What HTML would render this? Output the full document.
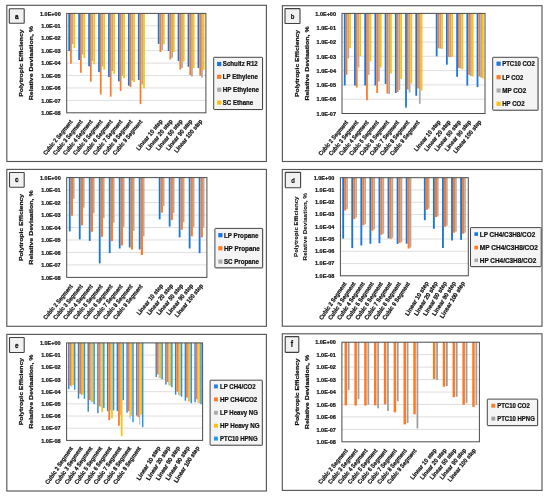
<!DOCTYPE html>
<html lang="en"><head><meta charset="utf-8"><title>Polytropic efficiency relative deviation</title>
<style>html,body{margin:0;padding:0;background:#fff}svg{display:block}text{font-family:"Liberation Sans",sans-serif;font-weight:bold;fill:#111;stroke:#111;stroke-width:0.22px}</style></head><body>
<svg width="550" height="497" viewBox="0 0 550 497">
<rect width="550" height="497" fill="#fff"/>
<g id="panel-a">
<rect x="6.8" y="5.3" width="259.6" height="156.2" fill="#fff" stroke="#575757" stroke-width="1.15"/>
<rect x="9.3" y="8.8" width="14.9" height="14.5" rx="0.6" fill="#f1f1f1" stroke="#404040" stroke-width="1.1"/>
<text transform="translate(16.75 18.55) scale(0.8 1)" font-size="7.9" text-anchor="middle" style="stroke-width:0.35px">a</text>
<line x1="66.7" y1="25.82" x2="205.9" y2="25.82" stroke="#d6d6d6" stroke-width="0.8"/>
<line x1="66.7" y1="38.25" x2="205.9" y2="38.25" stroke="#d6d6d6" stroke-width="0.8"/>
<line x1="66.7" y1="50.67" x2="205.9" y2="50.67" stroke="#d6d6d6" stroke-width="0.8"/>
<line x1="66.7" y1="63.1" x2="205.9" y2="63.1" stroke="#d6d6d6" stroke-width="0.8"/>
<line x1="66.7" y1="75.52" x2="205.9" y2="75.52" stroke="#d6d6d6" stroke-width="0.8"/>
<line x1="66.7" y1="87.95" x2="205.9" y2="87.95" stroke="#d6d6d6" stroke-width="0.8"/>
<line x1="66.7" y1="100.38" x2="205.9" y2="100.38" stroke="#d6d6d6" stroke-width="0.8"/>
<text x="60.7" y="15.6" font-size="5.8" text-anchor="end" textLength="20.7" lengthAdjust="spacingAndGlyphs">1.0E+00</text>
<text x="60.7" y="28.02" font-size="5.8" text-anchor="end" textLength="19.4" lengthAdjust="spacingAndGlyphs">1.0E-01</text>
<text x="60.7" y="40.45" font-size="5.8" text-anchor="end" textLength="19.4" lengthAdjust="spacingAndGlyphs">1.0E-02</text>
<text x="60.7" y="52.88" font-size="5.8" text-anchor="end" textLength="19.4" lengthAdjust="spacingAndGlyphs">1.0E-03</text>
<text x="60.7" y="65.3" font-size="5.8" text-anchor="end" textLength="19.4" lengthAdjust="spacingAndGlyphs">1.0E-04</text>
<text x="60.7" y="77.72" font-size="5.8" text-anchor="end" textLength="19.4" lengthAdjust="spacingAndGlyphs">1.0E-05</text>
<text x="60.7" y="90.15" font-size="5.8" text-anchor="end" textLength="19.4" lengthAdjust="spacingAndGlyphs">1.0E-06</text>
<text x="60.7" y="102.58" font-size="5.8" text-anchor="end" textLength="19.4" lengthAdjust="spacingAndGlyphs">1.0E-07</text>
<text x="60.7" y="115" font-size="5.8" text-anchor="end" textLength="19.4" lengthAdjust="spacingAndGlyphs">1.0E-08</text>
<rect x="68.3" y="13.4" width="1.74" height="37.6" fill="#1A76DF"/>
<rect x="70.04" y="13.4" width="1.74" height="50.3" fill="#FF7A22"/>
<rect x="71.78" y="13.4" width="1.74" height="30.5" fill="#ABABAB"/>
<rect x="73.52" y="13.4" width="1.74" height="34.8" fill="#FFC108"/>
<rect x="78.24" y="13.4" width="1.74" height="46.6" fill="#1A76DF"/>
<rect x="79.98" y="13.4" width="1.74" height="59.4" fill="#FF7A22"/>
<rect x="81.72" y="13.4" width="1.74" height="41.1" fill="#ABABAB"/>
<rect x="83.46" y="13.4" width="1.74" height="44.6" fill="#FFC108"/>
<rect x="88.19" y="13.4" width="1.74" height="52.9" fill="#1A76DF"/>
<rect x="89.93" y="13.4" width="1.74" height="68.2" fill="#FF7A22"/>
<rect x="91.67" y="13.4" width="1.74" height="47.6" fill="#ABABAB"/>
<rect x="93.41" y="13.4" width="1.74" height="50.9" fill="#FFC108"/>
<rect x="98.13" y="13.4" width="1.74" height="58.7" fill="#1A76DF"/>
<rect x="99.87" y="13.4" width="1.74" height="81.1" fill="#FF7A22"/>
<rect x="101.61" y="13.4" width="1.74" height="53.1" fill="#ABABAB"/>
<rect x="103.35" y="13.4" width="1.74" height="56.2" fill="#FFC108"/>
<rect x="108.07" y="13.4" width="1.74" height="63.6" fill="#1A76DF"/>
<rect x="109.81" y="13.4" width="1.74" height="83.2" fill="#FF7A22"/>
<rect x="111.55" y="13.4" width="1.74" height="57.6" fill="#ABABAB"/>
<rect x="113.29" y="13.4" width="1.74" height="60.5" fill="#FFC108"/>
<rect x="118.01" y="13.4" width="1.74" height="68" fill="#1A76DF"/>
<rect x="119.75" y="13.4" width="1.74" height="77.5" fill="#FF7A22"/>
<rect x="121.49" y="13.4" width="1.74" height="62.2" fill="#ABABAB"/>
<rect x="123.23" y="13.4" width="1.74" height="64.7" fill="#FFC108"/>
<rect x="127.96" y="13.4" width="1.74" height="72.3" fill="#1A76DF"/>
<rect x="129.7" y="13.4" width="1.74" height="73.6" fill="#FF7A22"/>
<rect x="131.44" y="13.4" width="1.74" height="67.2" fill="#ABABAB"/>
<rect x="133.18" y="13.4" width="1.74" height="68.6" fill="#FFC108"/>
<rect x="137.9" y="13.4" width="1.74" height="66.6" fill="#1A76DF"/>
<rect x="139.64" y="13.4" width="1.74" height="90.7" fill="#FF7A22"/>
<rect x="141.38" y="13.4" width="1.74" height="71.1" fill="#ABABAB"/>
<rect x="143.12" y="13.4" width="1.74" height="75" fill="#FFC108"/>
<rect x="157.79" y="13.4" width="1.74" height="30.5" fill="#1A76DF"/>
<rect x="159.53" y="13.4" width="1.74" height="38.6" fill="#FF7A22"/>
<rect x="161.27" y="13.4" width="1.74" height="36.6" fill="#ABABAB"/>
<rect x="163.01" y="13.4" width="1.74" height="31" fill="#FFC108"/>
<rect x="167.73" y="13.4" width="1.74" height="37.6" fill="#1A76DF"/>
<rect x="169.47" y="13.4" width="1.74" height="46.1" fill="#FF7A22"/>
<rect x="171.21" y="13.4" width="1.74" height="44.3" fill="#ABABAB"/>
<rect x="172.95" y="13.4" width="1.74" height="38.6" fill="#FFC108"/>
<rect x="177.67" y="13.4" width="1.74" height="47.6" fill="#1A76DF"/>
<rect x="179.41" y="13.4" width="1.74" height="56.2" fill="#FF7A22"/>
<rect x="181.15" y="13.4" width="1.74" height="54.7" fill="#ABABAB"/>
<rect x="182.89" y="13.4" width="1.74" height="48.3" fill="#FFC108"/>
<rect x="187.61" y="13.4" width="1.74" height="53.4" fill="#1A76DF"/>
<rect x="189.35" y="13.4" width="1.74" height="61.7" fill="#FF7A22"/>
<rect x="191.09" y="13.4" width="1.74" height="63.2" fill="#ABABAB"/>
<rect x="192.83" y="13.4" width="1.74" height="54.7" fill="#FFC108"/>
<rect x="197.56" y="13.4" width="1.74" height="54.7" fill="#1A76DF"/>
<rect x="199.3" y="13.4" width="1.74" height="62.2" fill="#FF7A22"/>
<rect x="201.04" y="13.4" width="1.74" height="64.2" fill="#ABABAB"/>
<rect x="202.78" y="13.4" width="1.74" height="56.7" fill="#FFC108"/>
<rect x="66.7" y="13.4" width="139.2" height="99.4" fill="none" stroke="#4c4c4c" stroke-width="1"/>
<text transform="translate(72.97 122) rotate(-51)" font-size="6.1" text-anchor="end" textLength="43" lengthAdjust="spacingAndGlyphs">Cubic 2 Segment</text>
<text transform="translate(82.91 122) rotate(-51)" font-size="6.1" text-anchor="end" textLength="43" lengthAdjust="spacingAndGlyphs">Cubic 3 Segment</text>
<text transform="translate(92.86 122) rotate(-51)" font-size="6.1" text-anchor="end" textLength="43" lengthAdjust="spacingAndGlyphs">Cubic 4 Segment</text>
<text transform="translate(102.8 122) rotate(-51)" font-size="6.1" text-anchor="end" textLength="43" lengthAdjust="spacingAndGlyphs">Cubic 5 Segment</text>
<text transform="translate(112.74 122) rotate(-51)" font-size="6.1" text-anchor="end" textLength="43" lengthAdjust="spacingAndGlyphs">Cubic 6 Segment</text>
<text transform="translate(122.69 122) rotate(-51)" font-size="6.1" text-anchor="end" textLength="43" lengthAdjust="spacingAndGlyphs">Cubic 7 Segment</text>
<text transform="translate(132.63 122) rotate(-51)" font-size="6.1" text-anchor="end" textLength="43" lengthAdjust="spacingAndGlyphs">Cubic 8 Segment</text>
<text transform="translate(142.57 122) rotate(-51)" font-size="6.1" text-anchor="end" textLength="43" lengthAdjust="spacingAndGlyphs">Cubic 9 Segment</text>
<text transform="translate(162.96 121.3) rotate(-51)" font-size="6.1" text-anchor="end" textLength="38.2" lengthAdjust="spacingAndGlyphs">Linear 10 step</text>
<text transform="translate(172.9 121.3) rotate(-51)" font-size="6.1" text-anchor="end" textLength="38.2" lengthAdjust="spacingAndGlyphs">Linear 20 step</text>
<text transform="translate(182.84 121.3) rotate(-51)" font-size="6.1" text-anchor="end" textLength="38.2" lengthAdjust="spacingAndGlyphs">Linear 50 step</text>
<text transform="translate(192.79 121.3) rotate(-51)" font-size="6.1" text-anchor="end" textLength="38.2" lengthAdjust="spacingAndGlyphs">Linear 90 step</text>
<text transform="translate(202.73 121.3) rotate(-51)" font-size="6.1" text-anchor="end" textLength="41" lengthAdjust="spacingAndGlyphs">Linear 100 step</text>
<text transform="translate(23.1 63.1) rotate(-90)" font-size="6.25" text-anchor="middle" textLength="67.2" lengthAdjust="spacingAndGlyphs">Polytropic Efficiency</text>
<text transform="translate(33.2 63.1) rotate(-90)" font-size="6.25" text-anchor="middle" textLength="74.3" lengthAdjust="spacingAndGlyphs">Relative Deviaation, %</text>
<rect x="214.4" y="58" width="48.8" height="52.2" fill="#c2c2c2"/>
<rect x="213.7" y="57.3" width="48.8" height="52.2" rx="0.5" fill="#f4f4f4" stroke="#484848" stroke-width="1"/>
<rect x="217.1" y="61.9" width="4.2" height="4.2" fill="#1A76DF"/>
<text x="222.8" y="66.4" font-size="6.7" textLength="35" lengthAdjust="spacingAndGlyphs">Schultz R12</text>
<rect x="217.1" y="74.7" width="4.2" height="4.2" fill="#FF7A22"/>
<text x="222.8" y="79.2" font-size="6.7" textLength="35" lengthAdjust="spacingAndGlyphs">LP Ethylene</text>
<rect x="217.1" y="87.6" width="4.2" height="4.2" fill="#ABABAB"/>
<text x="222.8" y="92.1" font-size="6.7" textLength="36.2" lengthAdjust="spacingAndGlyphs">HP Ethylene</text>
<rect x="217.1" y="100.5" width="4.2" height="4.2" fill="#FFC108"/>
<text x="222.8" y="105" font-size="6.7" textLength="30.4" lengthAdjust="spacingAndGlyphs">SC Ethane</text>
</g>
<g id="panel-b">
<rect x="282.4" y="5.7" width="259.6" height="155.8" fill="#fff" stroke="#575757" stroke-width="1.15"/>
<rect x="285" y="8.6" width="15" height="14.9" rx="0.6" fill="#f1f1f1" stroke="#404040" stroke-width="1.1"/>
<text transform="translate(292.5 18.55) scale(0.8 1)" font-size="7.4" text-anchor="middle" style="stroke-width:0.2px">b</text>
<line x1="342" y1="27.7" x2="485" y2="27.7" stroke="#d6d6d6" stroke-width="0.8"/>
<line x1="342" y1="42" x2="485" y2="42" stroke="#d6d6d6" stroke-width="0.8"/>
<line x1="342" y1="56.3" x2="485" y2="56.3" stroke="#d6d6d6" stroke-width="0.8"/>
<line x1="342" y1="70.6" x2="485" y2="70.6" stroke="#d6d6d6" stroke-width="0.8"/>
<line x1="342" y1="84.9" x2="485" y2="84.9" stroke="#d6d6d6" stroke-width="0.8"/>
<line x1="342" y1="99.2" x2="485" y2="99.2" stroke="#d6d6d6" stroke-width="0.8"/>
<text x="336" y="15.6" font-size="5.8" text-anchor="end" textLength="20.7" lengthAdjust="spacingAndGlyphs">1.0E+00</text>
<text x="336" y="29.9" font-size="5.8" text-anchor="end" textLength="19.4" lengthAdjust="spacingAndGlyphs">1.0E-01</text>
<text x="336" y="44.2" font-size="5.8" text-anchor="end" textLength="19.4" lengthAdjust="spacingAndGlyphs">1.0E-02</text>
<text x="336" y="58.5" font-size="5.8" text-anchor="end" textLength="19.4" lengthAdjust="spacingAndGlyphs">1.0E-03</text>
<text x="336" y="72.8" font-size="5.8" text-anchor="end" textLength="19.4" lengthAdjust="spacingAndGlyphs">1.0E-04</text>
<text x="336" y="87.1" font-size="5.8" text-anchor="end" textLength="19.4" lengthAdjust="spacingAndGlyphs">1.0E-05</text>
<text x="336" y="101.4" font-size="5.8" text-anchor="end" textLength="19.4" lengthAdjust="spacingAndGlyphs">1.0E-06</text>
<text x="336" y="115.7" font-size="5.8" text-anchor="end" textLength="19.4" lengthAdjust="spacingAndGlyphs">1.0E-07</text>
<rect x="343.85" y="13.4" width="1.78" height="72.1" fill="#1A76DF"/>
<rect x="345.63" y="13.4" width="1.78" height="61.4" fill="#FF7A22"/>
<rect x="347.41" y="13.4" width="1.78" height="45" fill="#ABABAB"/>
<rect x="349.19" y="13.4" width="1.78" height="34.9" fill="#FFC108"/>
<rect x="354.06" y="13.4" width="1.78" height="72.1" fill="#1A76DF"/>
<rect x="355.84" y="13.4" width="1.78" height="74.1" fill="#FF7A22"/>
<rect x="357.62" y="13.4" width="1.78" height="54" fill="#ABABAB"/>
<rect x="359.4" y="13.4" width="1.78" height="42.6" fill="#FFC108"/>
<rect x="364.28" y="13.4" width="1.78" height="72.1" fill="#1A76DF"/>
<rect x="366.06" y="13.4" width="1.78" height="86.8" fill="#FF7A22"/>
<rect x="367.84" y="13.4" width="1.78" height="61.4" fill="#ABABAB"/>
<rect x="369.62" y="13.4" width="1.78" height="48" fill="#FFC108"/>
<rect x="374.49" y="13.4" width="1.78" height="72.1" fill="#1A76DF"/>
<rect x="376.27" y="13.4" width="1.78" height="79.6" fill="#FF7A22"/>
<rect x="378.05" y="13.4" width="1.78" height="68.1" fill="#ABABAB"/>
<rect x="379.83" y="13.4" width="1.78" height="54" fill="#FFC108"/>
<rect x="384.7" y="13.4" width="1.78" height="70.6" fill="#1A76DF"/>
<rect x="386.48" y="13.4" width="1.78" height="80.1" fill="#FF7A22"/>
<rect x="388.26" y="13.4" width="1.78" height="80.6" fill="#ABABAB"/>
<rect x="390.04" y="13.4" width="1.78" height="60" fill="#FFC108"/>
<rect x="394.92" y="13.4" width="1.78" height="79.6" fill="#1A76DF"/>
<rect x="396.7" y="13.4" width="1.78" height="78.6" fill="#FF7A22"/>
<rect x="398.48" y="13.4" width="1.78" height="76.6" fill="#ABABAB"/>
<rect x="400.26" y="13.4" width="1.78" height="65.5" fill="#FFC108"/>
<rect x="405.13" y="13.4" width="1.78" height="94.2" fill="#1A76DF"/>
<rect x="406.91" y="13.4" width="1.78" height="76.1" fill="#FF7A22"/>
<rect x="408.69" y="13.4" width="1.78" height="79.1" fill="#ABABAB"/>
<rect x="410.47" y="13.4" width="1.78" height="70.1" fill="#FFC108"/>
<rect x="415.35" y="13.4" width="1.78" height="82.4" fill="#1A76DF"/>
<rect x="417.13" y="13.4" width="1.78" height="75.1" fill="#FF7A22"/>
<rect x="418.91" y="13.4" width="1.78" height="90.4" fill="#ABABAB"/>
<rect x="420.69" y="13.4" width="1.78" height="77.1" fill="#FFC108"/>
<rect x="435.78" y="13.4" width="1.78" height="42.9" fill="#1A76DF"/>
<rect x="437.56" y="13.4" width="1.78" height="34.9" fill="#FF7A22"/>
<rect x="439.34" y="13.4" width="1.78" height="35.1" fill="#ABABAB"/>
<rect x="441.12" y="13.4" width="1.78" height="35.5" fill="#FFC108"/>
<rect x="445.99" y="13.4" width="1.78" height="51.3" fill="#1A76DF"/>
<rect x="447.77" y="13.4" width="1.78" height="43.6" fill="#FF7A22"/>
<rect x="449.55" y="13.4" width="1.78" height="43.9" fill="#ABABAB"/>
<rect x="451.33" y="13.4" width="1.78" height="43.5" fill="#FFC108"/>
<rect x="456.2" y="13.4" width="1.78" height="63.4" fill="#1A76DF"/>
<rect x="457.98" y="13.4" width="1.78" height="54.6" fill="#FF7A22"/>
<rect x="459.76" y="13.4" width="1.78" height="55.2" fill="#ABABAB"/>
<rect x="461.54" y="13.4" width="1.78" height="56" fill="#FFC108"/>
<rect x="466.42" y="13.4" width="1.78" height="72.2" fill="#1A76DF"/>
<rect x="468.2" y="13.4" width="1.78" height="61.4" fill="#FF7A22"/>
<rect x="469.98" y="13.4" width="1.78" height="62.6" fill="#ABABAB"/>
<rect x="471.76" y="13.4" width="1.78" height="63.1" fill="#FFC108"/>
<rect x="476.63" y="13.4" width="1.78" height="73.7" fill="#1A76DF"/>
<rect x="478.41" y="13.4" width="1.78" height="63.1" fill="#FF7A22"/>
<rect x="480.19" y="13.4" width="1.78" height="64.1" fill="#ABABAB"/>
<rect x="481.97" y="13.4" width="1.78" height="65.1" fill="#FFC108"/>
<rect x="342" y="13.4" width="143" height="100.1" fill="none" stroke="#4c4c4c" stroke-width="1"/>
<text transform="translate(348.41 122.7) rotate(-51)" font-size="6.1" text-anchor="end" textLength="43" lengthAdjust="spacingAndGlyphs">Cubic 2 Segment</text>
<text transform="translate(358.62 122.7) rotate(-51)" font-size="6.1" text-anchor="end" textLength="43" lengthAdjust="spacingAndGlyphs">Cubic 3 Segment</text>
<text transform="translate(368.84 122.7) rotate(-51)" font-size="6.1" text-anchor="end" textLength="43" lengthAdjust="spacingAndGlyphs">Cubic 4 Segment</text>
<text transform="translate(379.05 122.7) rotate(-51)" font-size="6.1" text-anchor="end" textLength="43" lengthAdjust="spacingAndGlyphs">Cubic 5 Segment</text>
<text transform="translate(389.26 122.7) rotate(-51)" font-size="6.1" text-anchor="end" textLength="43" lengthAdjust="spacingAndGlyphs">Cubic 6 Segment</text>
<text transform="translate(399.48 122.7) rotate(-51)" font-size="6.1" text-anchor="end" textLength="43" lengthAdjust="spacingAndGlyphs">Cubic 7 Segment</text>
<text transform="translate(409.69 122.7) rotate(-51)" font-size="6.1" text-anchor="end" textLength="43" lengthAdjust="spacingAndGlyphs">Cubic 8 Segment</text>
<text transform="translate(419.91 122.7) rotate(-51)" font-size="6.1" text-anchor="end" textLength="43" lengthAdjust="spacingAndGlyphs">Cubic 9 Segment</text>
<text transform="translate(440.84 122) rotate(-51)" font-size="6.1" text-anchor="end" textLength="38.2" lengthAdjust="spacingAndGlyphs">Linear 10 step</text>
<text transform="translate(451.05 122) rotate(-51)" font-size="6.1" text-anchor="end" textLength="38.2" lengthAdjust="spacingAndGlyphs">Linear 20 step</text>
<text transform="translate(461.26 122) rotate(-51)" font-size="6.1" text-anchor="end" textLength="38.2" lengthAdjust="spacingAndGlyphs">Linear 50 step</text>
<text transform="translate(471.48 122) rotate(-51)" font-size="6.1" text-anchor="end" textLength="38.2" lengthAdjust="spacingAndGlyphs">Linear 90 step</text>
<text transform="translate(481.69 122) rotate(-51)" font-size="6.1" text-anchor="end" textLength="41" lengthAdjust="spacingAndGlyphs">Linear 100 step</text>
<text transform="translate(298.7 63.45) rotate(-90)" font-size="6.25" text-anchor="middle" textLength="67.2" lengthAdjust="spacingAndGlyphs">Polytropic Efficiency</text>
<text transform="translate(308.8 63.45) rotate(-90)" font-size="6.25" text-anchor="middle" textLength="74.3" lengthAdjust="spacingAndGlyphs">Relative Deviaation, %</text>
<rect x="493.4" y="58" width="45.3" height="52.9" fill="#c2c2c2"/>
<rect x="492.7" y="57.3" width="45.3" height="52.9" rx="0.5" fill="#f4f4f4" stroke="#484848" stroke-width="1"/>
<rect x="496.5" y="61.6" width="4.2" height="4.2" fill="#1A76DF"/>
<text x="502.2" y="66.1" font-size="6.7" textLength="32.7" lengthAdjust="spacingAndGlyphs">PTC10 CO2</text>
<rect x="496.5" y="75.1" width="4.2" height="4.2" fill="#FF7A22"/>
<text x="502.2" y="79.6" font-size="6.7" textLength="21.1" lengthAdjust="spacingAndGlyphs">LP CO2</text>
<rect x="496.5" y="88.4" width="4.2" height="4.2" fill="#ABABAB"/>
<text x="502.2" y="92.9" font-size="6.7" textLength="24" lengthAdjust="spacingAndGlyphs">MP CO2</text>
<rect x="496.5" y="101.7" width="4.2" height="4.2" fill="#FFC108"/>
<text x="502.2" y="106.2" font-size="6.7" textLength="22.5" lengthAdjust="spacingAndGlyphs">HP CO2</text>
</g>
<g id="panel-c">
<rect x="6.8" y="169.4" width="259.6" height="156.9" fill="#fff" stroke="#575757" stroke-width="1.15"/>
<rect x="9.5" y="172.5" width="14.7" height="14.7" rx="0.6" fill="#f1f1f1" stroke="#404040" stroke-width="1.1"/>
<text transform="translate(16.85 182.35) scale(0.8 1)" font-size="7.9" text-anchor="middle" style="stroke-width:0.35px">c</text>
<line x1="66.7" y1="190.07" x2="206.9" y2="190.07" stroke="#d6d6d6" stroke-width="0.8"/>
<line x1="66.7" y1="202.55" x2="206.9" y2="202.55" stroke="#d6d6d6" stroke-width="0.8"/>
<line x1="66.7" y1="215.02" x2="206.9" y2="215.02" stroke="#d6d6d6" stroke-width="0.8"/>
<line x1="66.7" y1="227.5" x2="206.9" y2="227.5" stroke="#d6d6d6" stroke-width="0.8"/>
<line x1="66.7" y1="239.97" x2="206.9" y2="239.97" stroke="#d6d6d6" stroke-width="0.8"/>
<line x1="66.7" y1="252.45" x2="206.9" y2="252.45" stroke="#d6d6d6" stroke-width="0.8"/>
<line x1="66.7" y1="264.92" x2="206.9" y2="264.92" stroke="#d6d6d6" stroke-width="0.8"/>
<text x="60.7" y="179.8" font-size="5.8" text-anchor="end" textLength="20.7" lengthAdjust="spacingAndGlyphs">1.0E+00</text>
<text x="60.7" y="192.27" font-size="5.8" text-anchor="end" textLength="19.4" lengthAdjust="spacingAndGlyphs">1.0E-01</text>
<text x="60.7" y="204.75" font-size="5.8" text-anchor="end" textLength="19.4" lengthAdjust="spacingAndGlyphs">1.0E-02</text>
<text x="60.7" y="217.22" font-size="5.8" text-anchor="end" textLength="19.4" lengthAdjust="spacingAndGlyphs">1.0E-03</text>
<text x="60.7" y="229.7" font-size="5.8" text-anchor="end" textLength="19.4" lengthAdjust="spacingAndGlyphs">1.0E-04</text>
<text x="60.7" y="242.17" font-size="5.8" text-anchor="end" textLength="19.4" lengthAdjust="spacingAndGlyphs">1.0E-05</text>
<text x="60.7" y="254.65" font-size="5.8" text-anchor="end" textLength="19.4" lengthAdjust="spacingAndGlyphs">1.0E-06</text>
<text x="60.7" y="267.12" font-size="5.8" text-anchor="end" textLength="19.4" lengthAdjust="spacingAndGlyphs">1.0E-07</text>
<text x="60.7" y="279.6" font-size="5.8" text-anchor="end" textLength="19.4" lengthAdjust="spacingAndGlyphs">1.0E-08</text>
<rect x="68.85" y="177.6" width="1.8" height="53.8" fill="#1A76DF"/>
<rect x="70.9" y="177.6" width="2.1" height="38.1" fill="#FF7A22"/>
<rect x="73" y="177.6" width="1.6" height="21.2" fill="#ABABAB"/>
<rect x="78.84" y="177.6" width="1.8" height="61.8" fill="#1A76DF"/>
<rect x="80.89" y="177.6" width="2.1" height="47.8" fill="#FF7A22"/>
<rect x="82.99" y="177.6" width="1.6" height="30.1" fill="#ABABAB"/>
<rect x="88.83" y="177.6" width="1.8" height="63.3" fill="#1A76DF"/>
<rect x="90.88" y="177.6" width="2.1" height="54.2" fill="#FF7A22"/>
<rect x="92.98" y="177.6" width="1.6" height="35.7" fill="#ABABAB"/>
<rect x="98.82" y="177.6" width="1.8" height="85.8" fill="#1A76DF"/>
<rect x="100.87" y="177.6" width="2.1" height="59.2" fill="#FF7A22"/>
<rect x="102.97" y="177.6" width="1.6" height="40.7" fill="#ABABAB"/>
<rect x="108.81" y="177.6" width="1.8" height="75.5" fill="#1A76DF"/>
<rect x="110.86" y="177.6" width="2.1" height="63.5" fill="#FF7A22"/>
<rect x="112.96" y="177.6" width="1.6" height="45.1" fill="#ABABAB"/>
<rect x="118.8" y="177.6" width="1.8" height="70.9" fill="#1A76DF"/>
<rect x="120.85" y="177.6" width="2.1" height="67.9" fill="#FF7A22"/>
<rect x="122.95" y="177.6" width="1.6" height="49.4" fill="#ABABAB"/>
<rect x="128.79" y="177.6" width="1.8" height="69.9" fill="#1A76DF"/>
<rect x="130.84" y="177.6" width="2.1" height="71.9" fill="#FF7A22"/>
<rect x="132.94" y="177.6" width="1.6" height="53.2" fill="#ABABAB"/>
<rect x="138.78" y="177.6" width="1.8" height="71.9" fill="#1A76DF"/>
<rect x="140.83" y="177.6" width="2.1" height="77.4" fill="#FF7A22"/>
<rect x="142.93" y="177.6" width="1.6" height="58.8" fill="#ABABAB"/>
<rect x="158.76" y="177.6" width="1.8" height="41.8" fill="#1A76DF"/>
<rect x="160.81" y="177.6" width="2.1" height="35.1" fill="#FF7A22"/>
<rect x="162.91" y="177.6" width="1.6" height="28.4" fill="#ABABAB"/>
<rect x="168.75" y="177.6" width="1.8" height="49" fill="#1A76DF"/>
<rect x="170.8" y="177.6" width="2.1" height="42.5" fill="#FF7A22"/>
<rect x="172.9" y="177.6" width="1.6" height="35.3" fill="#ABABAB"/>
<rect x="178.74" y="177.6" width="1.8" height="59.8" fill="#1A76DF"/>
<rect x="180.79" y="177.6" width="2.1" height="52.2" fill="#FF7A22"/>
<rect x="182.89" y="177.6" width="1.6" height="44.7" fill="#ABABAB"/>
<rect x="188.73" y="177.6" width="1.8" height="70.9" fill="#1A76DF"/>
<rect x="190.78" y="177.6" width="2.1" height="58.8" fill="#FF7A22"/>
<rect x="192.88" y="177.6" width="1.6" height="49.4" fill="#ABABAB"/>
<rect x="198.72" y="177.6" width="1.8" height="75.5" fill="#1A76DF"/>
<rect x="200.77" y="177.6" width="2.1" height="59.8" fill="#FF7A22"/>
<rect x="202.87" y="177.6" width="1.6" height="49.8" fill="#ABABAB"/>
<rect x="66.7" y="177.6" width="140.2" height="99.8" fill="none" stroke="#4c4c4c" stroke-width="1"/>
<text transform="translate(73.01 286.6) rotate(-51)" font-size="6.1" text-anchor="end" textLength="43" lengthAdjust="spacingAndGlyphs">Cubic 2 Segment</text>
<text transform="translate(83 286.6) rotate(-51)" font-size="6.1" text-anchor="end" textLength="43" lengthAdjust="spacingAndGlyphs">Cubic 3 Segment</text>
<text transform="translate(92.99 286.6) rotate(-51)" font-size="6.1" text-anchor="end" textLength="43" lengthAdjust="spacingAndGlyphs">Cubic 4 Segment</text>
<text transform="translate(102.98 286.6) rotate(-51)" font-size="6.1" text-anchor="end" textLength="43" lengthAdjust="spacingAndGlyphs">Cubic 5 Segment</text>
<text transform="translate(112.97 286.6) rotate(-51)" font-size="6.1" text-anchor="end" textLength="43" lengthAdjust="spacingAndGlyphs">Cubic 6 Segment</text>
<text transform="translate(122.96 286.6) rotate(-51)" font-size="6.1" text-anchor="end" textLength="43" lengthAdjust="spacingAndGlyphs">Cubic 7 Segment</text>
<text transform="translate(132.95 286.6) rotate(-51)" font-size="6.1" text-anchor="end" textLength="43" lengthAdjust="spacingAndGlyphs">Cubic 8 Segment</text>
<text transform="translate(142.94 286.6) rotate(-51)" font-size="6.1" text-anchor="end" textLength="43" lengthAdjust="spacingAndGlyphs">Cubic 9 Segment</text>
<text transform="translate(163.42 285.9) rotate(-51)" font-size="6.1" text-anchor="end" textLength="38.2" lengthAdjust="spacingAndGlyphs">Linear 10 step</text>
<text transform="translate(173.41 285.9) rotate(-51)" font-size="6.1" text-anchor="end" textLength="38.2" lengthAdjust="spacingAndGlyphs">Linear 20 step</text>
<text transform="translate(183.4 285.9) rotate(-51)" font-size="6.1" text-anchor="end" textLength="38.2" lengthAdjust="spacingAndGlyphs">Linear 50 step</text>
<text transform="translate(193.39 285.9) rotate(-51)" font-size="6.1" text-anchor="end" textLength="38.2" lengthAdjust="spacingAndGlyphs">Linear 90 step</text>
<text transform="translate(203.38 285.9) rotate(-51)" font-size="6.1" text-anchor="end" textLength="41" lengthAdjust="spacingAndGlyphs">Linear 100 step</text>
<text transform="translate(23.1 227.5) rotate(-90)" font-size="6.25" text-anchor="middle" textLength="67.2" lengthAdjust="spacingAndGlyphs">Polytropic Efficiency</text>
<text transform="translate(33.2 227.5) rotate(-90)" font-size="6.25" text-anchor="middle" textLength="74.3" lengthAdjust="spacingAndGlyphs">Relative Deviaation, %</text>
<rect x="215.6" y="229.1" width="47.7" height="39.4" fill="#c2c2c2"/>
<rect x="214.9" y="228.4" width="47.7" height="39.4" rx="0.5" fill="#f4f4f4" stroke="#484848" stroke-width="1"/>
<rect x="218.3" y="233.1" width="4.2" height="4.2" fill="#1A76DF"/>
<text x="224" y="237.6" font-size="6.7" textLength="34.4" lengthAdjust="spacingAndGlyphs">LP Propane</text>
<rect x="218.3" y="246.2" width="4.2" height="4.2" fill="#FF7A22"/>
<text x="224" y="250.7" font-size="6.7" textLength="35.9" lengthAdjust="spacingAndGlyphs">HP Propane</text>
<rect x="218.3" y="259.5" width="4.2" height="4.2" fill="#ABABAB"/>
<text x="224" y="264" font-size="6.7" textLength="34.9" lengthAdjust="spacingAndGlyphs">SC Propane</text>
</g>
<g id="panel-d">
<rect x="282.3" y="169.5" width="259.7" height="156.7" fill="#fff" stroke="#575757" stroke-width="1.15"/>
<rect x="285.3" y="172.4" width="15.3" height="15.3" rx="0.6" fill="#f1f1f1" stroke="#404040" stroke-width="1.1"/>
<text transform="translate(292.95 182.55) scale(0.8 1)" font-size="7.4" text-anchor="middle" style="stroke-width:0.2px">d</text>
<line x1="340.4" y1="189.96" x2="468.3" y2="189.96" stroke="#d6d6d6" stroke-width="0.8"/>
<line x1="340.4" y1="202.22" x2="468.3" y2="202.22" stroke="#d6d6d6" stroke-width="0.8"/>
<line x1="340.4" y1="214.49" x2="468.3" y2="214.49" stroke="#d6d6d6" stroke-width="0.8"/>
<line x1="340.4" y1="226.75" x2="468.3" y2="226.75" stroke="#d6d6d6" stroke-width="0.8"/>
<line x1="340.4" y1="239.01" x2="468.3" y2="239.01" stroke="#d6d6d6" stroke-width="0.8"/>
<line x1="340.4" y1="251.28" x2="468.3" y2="251.28" stroke="#d6d6d6" stroke-width="0.8"/>
<line x1="340.4" y1="263.54" x2="468.3" y2="263.54" stroke="#d6d6d6" stroke-width="0.8"/>
<text x="334.4" y="179.5" font-size="5.8" text-anchor="end" textLength="20.7" lengthAdjust="spacingAndGlyphs">1.0E+00</text>
<text x="334.4" y="191.76" font-size="5.8" text-anchor="end" textLength="19.4" lengthAdjust="spacingAndGlyphs">1.0E-01</text>
<text x="334.4" y="204.02" font-size="5.8" text-anchor="end" textLength="19.4" lengthAdjust="spacingAndGlyphs">1.0E-02</text>
<text x="334.4" y="216.29" font-size="5.8" text-anchor="end" textLength="19.4" lengthAdjust="spacingAndGlyphs">1.0E-03</text>
<text x="334.4" y="228.55" font-size="5.8" text-anchor="end" textLength="19.4" lengthAdjust="spacingAndGlyphs">1.0E-04</text>
<text x="334.4" y="240.81" font-size="5.8" text-anchor="end" textLength="19.4" lengthAdjust="spacingAndGlyphs">1.0E-05</text>
<text x="334.4" y="253.07" font-size="5.8" text-anchor="end" textLength="19.4" lengthAdjust="spacingAndGlyphs">1.0E-06</text>
<text x="334.4" y="265.34" font-size="5.8" text-anchor="end" textLength="19.4" lengthAdjust="spacingAndGlyphs">1.0E-07</text>
<text x="334.4" y="277.6" font-size="5.8" text-anchor="end" textLength="19.4" lengthAdjust="spacingAndGlyphs">1.0E-08</text>
<rect x="342.25" y="177.7" width="1.85" height="60.9" fill="#1A76DF"/>
<rect x="344.1" y="177.7" width="2.2" height="32.8" fill="#FF7A22"/>
<rect x="346.3" y="177.7" width="1.6" height="31.2" fill="#ABABAB"/>
<rect x="351.32" y="177.7" width="1.85" height="70.4" fill="#1A76DF"/>
<rect x="353.17" y="177.7" width="2.2" height="41.4" fill="#FF7A22"/>
<rect x="355.37" y="177.7" width="1.6" height="39.8" fill="#ABABAB"/>
<rect x="360.39" y="177.7" width="1.85" height="67.8" fill="#1A76DF"/>
<rect x="362.24" y="177.7" width="2.2" height="47.5" fill="#FF7A22"/>
<rect x="364.44" y="177.7" width="1.6" height="46.5" fill="#ABABAB"/>
<rect x="369.46" y="177.7" width="1.85" height="66.1" fill="#1A76DF"/>
<rect x="371.31" y="177.7" width="2.2" height="52.9" fill="#FF7A22"/>
<rect x="373.51" y="177.7" width="1.6" height="51.5" fill="#ABABAB"/>
<rect x="378.53" y="177.7" width="1.85" height="65.5" fill="#1A76DF"/>
<rect x="380.38" y="177.7" width="2.2" height="57" fill="#FF7A22"/>
<rect x="382.58" y="177.7" width="1.6" height="56" fill="#ABABAB"/>
<rect x="387.6" y="177.7" width="1.85" height="60.7" fill="#1A76DF"/>
<rect x="389.45" y="177.7" width="2.2" height="61.1" fill="#FF7A22"/>
<rect x="391.65" y="177.7" width="1.6" height="60.1" fill="#ABABAB"/>
<rect x="396.67" y="177.7" width="1.85" height="66.2" fill="#1A76DF"/>
<rect x="398.52" y="177.7" width="2.2" height="65.2" fill="#FF7A22"/>
<rect x="400.72" y="177.7" width="1.6" height="64.2" fill="#ABABAB"/>
<rect x="405.74" y="177.7" width="1.85" height="66" fill="#1A76DF"/>
<rect x="407.59" y="177.7" width="2.2" height="70.8" fill="#FF7A22"/>
<rect x="409.79" y="177.7" width="1.6" height="69.8" fill="#ABABAB"/>
<rect x="423.88" y="177.7" width="1.85" height="42.5" fill="#1A76DF"/>
<rect x="425.73" y="177.7" width="2.2" height="32.1" fill="#FF7A22"/>
<rect x="427.93" y="177.7" width="1.6" height="31" fill="#ABABAB"/>
<rect x="432.95" y="177.7" width="1.85" height="51.1" fill="#1A76DF"/>
<rect x="434.8" y="177.7" width="2.2" height="39.4" fill="#FF7A22"/>
<rect x="437" y="177.7" width="1.6" height="38.8" fill="#ABABAB"/>
<rect x="442.02" y="177.7" width="1.85" height="70.3" fill="#1A76DF"/>
<rect x="443.87" y="177.7" width="2.2" height="49" fill="#FF7A22"/>
<rect x="446.07" y="177.7" width="1.6" height="48" fill="#ABABAB"/>
<rect x="451.09" y="177.7" width="1.85" height="62.8" fill="#1A76DF"/>
<rect x="452.94" y="177.7" width="2.2" height="55" fill="#FF7A22"/>
<rect x="455.14" y="177.7" width="1.6" height="54" fill="#ABABAB"/>
<rect x="460.16" y="177.7" width="1.85" height="62.2" fill="#1A76DF"/>
<rect x="462.01" y="177.7" width="2.2" height="56" fill="#FF7A22"/>
<rect x="464.21" y="177.7" width="1.6" height="55" fill="#ABABAB"/>
<rect x="340.4" y="177.7" width="127.9" height="98.1" fill="none" stroke="#4c4c4c" stroke-width="1"/>
<text transform="translate(346.77 283.7) rotate(-56)" font-size="6.1" text-anchor="end" textLength="44.07" lengthAdjust="spacingAndGlyphs">Cubic 2 Segment</text>
<text transform="translate(355.84 283.7) rotate(-56)" font-size="6.1" text-anchor="end" textLength="44.07" lengthAdjust="spacingAndGlyphs">Cubic 3 Segment</text>
<text transform="translate(364.91 283.7) rotate(-56)" font-size="6.1" text-anchor="end" textLength="44.07" lengthAdjust="spacingAndGlyphs">Cubic 4 Segment</text>
<text transform="translate(373.98 283.7) rotate(-56)" font-size="6.1" text-anchor="end" textLength="44.07" lengthAdjust="spacingAndGlyphs">Cubic 5 Segment</text>
<text transform="translate(383.05 283.7) rotate(-56)" font-size="6.1" text-anchor="end" textLength="44.07" lengthAdjust="spacingAndGlyphs">Cubic 6 Segment</text>
<text transform="translate(392.12 283.7) rotate(-56)" font-size="6.1" text-anchor="end" textLength="44.07" lengthAdjust="spacingAndGlyphs">Cubic 7 Segment</text>
<text transform="translate(401.19 283.7) rotate(-56)" font-size="6.1" text-anchor="end" textLength="44.07" lengthAdjust="spacingAndGlyphs">Cubic 8 Segment</text>
<text transform="translate(410.26 283.7) rotate(-56)" font-size="6.1" text-anchor="end" textLength="44.07" lengthAdjust="spacingAndGlyphs">Cubic 9 Segment</text>
<text transform="translate(428.9 283) rotate(-58)" font-size="6.1" text-anchor="end" textLength="39.16" lengthAdjust="spacingAndGlyphs">Linear 10 step</text>
<text transform="translate(437.97 283) rotate(-58)" font-size="6.1" text-anchor="end" textLength="39.16" lengthAdjust="spacingAndGlyphs">Linear 20 step</text>
<text transform="translate(447.04 283) rotate(-58)" font-size="6.1" text-anchor="end" textLength="39.16" lengthAdjust="spacingAndGlyphs">Linear 50 step</text>
<text transform="translate(456.11 283) rotate(-58)" font-size="6.1" text-anchor="end" textLength="39.16" lengthAdjust="spacingAndGlyphs">Linear 90 step</text>
<text transform="translate(465.18 283) rotate(-58)" font-size="6.1" text-anchor="end" textLength="42.02" lengthAdjust="spacingAndGlyphs">Linear 100 step</text>
<text transform="translate(298 226.75) rotate(-90)" font-size="5.6" text-anchor="middle" textLength="60.4" lengthAdjust="spacingAndGlyphs" style="stroke-width:0.1px">Polytropic Efficiency</text>
<text transform="translate(307.1 226.75) rotate(-90)" font-size="5.6" text-anchor="middle" textLength="67.4" lengthAdjust="spacingAndGlyphs" style="stroke-width:0.1px">Relative Deviaation, %</text>
<rect x="471.2" y="228.3" width="70.7" height="39" fill="#c2c2c2"/>
<rect x="470.5" y="227.6" width="70.7" height="39" rx="0.5" fill="#f4f4f4" stroke="#484848" stroke-width="1"/>
<rect x="474.4" y="232.3" width="3.6" height="3.6" fill="#1A76DF"/>
<text x="479.8" y="236.5" font-size="6.7" textLength="55.4" lengthAdjust="spacingAndGlyphs">LP CH4/C3H8/CO2</text>
<rect x="474.4" y="245.8" width="3.6" height="3.6" fill="#FF7A22"/>
<text x="479.8" y="250" font-size="6.7" textLength="58.2" lengthAdjust="spacingAndGlyphs">MP CH4/C3H8/CO2</text>
<rect x="474.4" y="258.5" width="3.6" height="3.6" fill="#ABABAB"/>
<text x="479.8" y="262.7" font-size="6.7" textLength="56.4" lengthAdjust="spacingAndGlyphs">HP CH4/C3H8/CO2</text>
</g>
<g id="panel-e">
<rect x="6.8" y="334.4" width="259.6" height="156.6" fill="#fff" stroke="#575757" stroke-width="1.15"/>
<rect x="9.5" y="337.5" width="14.7" height="15" rx="0.6" fill="#f1f1f1" stroke="#404040" stroke-width="1.1"/>
<text transform="translate(16.85 347.5) scale(0.8 1)" font-size="7.9" text-anchor="middle" style="stroke-width:0.35px">e</text>
<line x1="66.6" y1="355.09" x2="202.6" y2="355.09" stroke="#d6d6d6" stroke-width="0.8"/>
<line x1="66.6" y1="367.27" x2="202.6" y2="367.27" stroke="#d6d6d6" stroke-width="0.8"/>
<line x1="66.6" y1="379.46" x2="202.6" y2="379.46" stroke="#d6d6d6" stroke-width="0.8"/>
<line x1="66.6" y1="391.65" x2="202.6" y2="391.65" stroke="#d6d6d6" stroke-width="0.8"/>
<line x1="66.6" y1="403.84" x2="202.6" y2="403.84" stroke="#d6d6d6" stroke-width="0.8"/>
<line x1="66.6" y1="416.02" x2="202.6" y2="416.02" stroke="#d6d6d6" stroke-width="0.8"/>
<line x1="66.6" y1="428.21" x2="202.6" y2="428.21" stroke="#d6d6d6" stroke-width="0.8"/>
<text x="60.6" y="345.1" font-size="5.8" text-anchor="end" textLength="20.7" lengthAdjust="spacingAndGlyphs">1.0E+00</text>
<text x="60.6" y="357.29" font-size="5.8" text-anchor="end" textLength="19.4" lengthAdjust="spacingAndGlyphs">1.0E-01</text>
<text x="60.6" y="369.47" font-size="5.8" text-anchor="end" textLength="19.4" lengthAdjust="spacingAndGlyphs">1.0E-02</text>
<text x="60.6" y="381.66" font-size="5.8" text-anchor="end" textLength="19.4" lengthAdjust="spacingAndGlyphs">1.0E-03</text>
<text x="60.6" y="393.85" font-size="5.8" text-anchor="end" textLength="19.4" lengthAdjust="spacingAndGlyphs">1.0E-04</text>
<text x="60.6" y="406.04" font-size="5.8" text-anchor="end" textLength="19.4" lengthAdjust="spacingAndGlyphs">1.0E-05</text>
<text x="60.6" y="418.22" font-size="5.8" text-anchor="end" textLength="19.4" lengthAdjust="spacingAndGlyphs">1.0E-06</text>
<text x="60.6" y="430.41" font-size="5.8" text-anchor="end" textLength="19.4" lengthAdjust="spacingAndGlyphs">1.0E-07</text>
<text x="60.6" y="442.6" font-size="5.8" text-anchor="end" textLength="19.4" lengthAdjust="spacingAndGlyphs">1.0E-08</text>
<rect x="68.08" y="342.9" width="1.4" height="46.2" fill="#2C80E1"/>
<rect x="69.48" y="342.9" width="1.8" height="42.7" fill="#FF7A22"/>
<rect x="71.28" y="342.9" width="0.95" height="43.7" fill="#ABABAB"/>
<rect x="72.23" y="342.9" width="1.75" height="42.2" fill="#FFC108"/>
<rect x="73.98" y="342.9" width="1.45" height="46.9" fill="#1E9AEA"/>
<rect x="77.8" y="342.9" width="1.4" height="55.8" fill="#2C80E1"/>
<rect x="79.2" y="342.9" width="1.8" height="50.9" fill="#FF7A22"/>
<rect x="81" y="342.9" width="0.95" height="52.2" fill="#ABABAB"/>
<rect x="81.95" y="342.9" width="1.75" height="51.7" fill="#FFC108"/>
<rect x="83.7" y="342.9" width="1.45" height="56" fill="#1E9AEA"/>
<rect x="87.51" y="342.9" width="1.4" height="68.8" fill="#2C80E1"/>
<rect x="88.91" y="342.9" width="1.8" height="57.3" fill="#FF7A22"/>
<rect x="90.71" y="342.9" width="0.95" height="59.3" fill="#ABABAB"/>
<rect x="91.66" y="342.9" width="1.75" height="59.3" fill="#FFC108"/>
<rect x="93.41" y="342.9" width="1.45" height="61.3" fill="#1E9AEA"/>
<rect x="97.22" y="342.9" width="1.4" height="70.3" fill="#2C80E1"/>
<rect x="98.62" y="342.9" width="1.8" height="63.3" fill="#FF7A22"/>
<rect x="100.42" y="342.9" width="0.95" height="64.2" fill="#ABABAB"/>
<rect x="101.37" y="342.9" width="1.75" height="69" fill="#FFC108"/>
<rect x="103.12" y="342.9" width="1.45" height="65" fill="#1E9AEA"/>
<rect x="106.94" y="342.9" width="1.4" height="68.2" fill="#2C80E1"/>
<rect x="108.34" y="342.9" width="1.8" height="77.3" fill="#FF7A22"/>
<rect x="110.14" y="342.9" width="0.95" height="67.6" fill="#ABABAB"/>
<rect x="111.09" y="342.9" width="1.75" height="75.4" fill="#FFC108"/>
<rect x="112.84" y="342.9" width="1.45" height="67.5" fill="#1E9AEA"/>
<rect x="116.65" y="342.9" width="1.4" height="68.2" fill="#2C80E1"/>
<rect x="118.05" y="342.9" width="1.8" height="82.8" fill="#FF7A22"/>
<rect x="119.85" y="342.9" width="0.95" height="72.2" fill="#ABABAB"/>
<rect x="120.8" y="342.9" width="1.75" height="93.4" fill="#FFC108"/>
<rect x="122.55" y="342.9" width="1.45" height="57.2" fill="#1E9AEA"/>
<rect x="126.37" y="342.9" width="1.4" height="69.7" fill="#2C80E1"/>
<rect x="127.77" y="342.9" width="1.8" height="68.2" fill="#FF7A22"/>
<rect x="129.57" y="342.9" width="0.95" height="75.8" fill="#ABABAB"/>
<rect x="130.52" y="342.9" width="1.75" height="73.2" fill="#FFC108"/>
<rect x="132.27" y="342.9" width="1.45" height="79.3" fill="#1E9AEA"/>
<rect x="136.08" y="342.9" width="1.4" height="72.7" fill="#2C80E1"/>
<rect x="137.48" y="342.9" width="1.8" height="74.2" fill="#FF7A22"/>
<rect x="139.28" y="342.9" width="0.95" height="81.8" fill="#ABABAB"/>
<rect x="140.23" y="342.9" width="1.75" height="71.7" fill="#FFC108"/>
<rect x="141.98" y="342.9" width="1.45" height="84.3" fill="#1E9AEA"/>
<rect x="155.51" y="342.9" width="1.4" height="34.2" fill="#2C80E1"/>
<rect x="156.91" y="342.9" width="1.8" height="31.4" fill="#FF7A22"/>
<rect x="158.71" y="342.9" width="0.95" height="35.2" fill="#ABABAB"/>
<rect x="159.66" y="342.9" width="1.75" height="35.4" fill="#FFC108"/>
<rect x="161.41" y="342.9" width="1.45" height="36.4" fill="#1E9AEA"/>
<rect x="165.22" y="342.9" width="1.4" height="41.7" fill="#2C80E1"/>
<rect x="166.62" y="342.9" width="1.8" height="39.2" fill="#FF7A22"/>
<rect x="168.42" y="342.9" width="0.95" height="42.5" fill="#ABABAB"/>
<rect x="169.37" y="342.9" width="1.75" height="43" fill="#FFC108"/>
<rect x="171.12" y="342.9" width="1.45" height="44.3" fill="#1E9AEA"/>
<rect x="174.94" y="342.9" width="1.4" height="51.7" fill="#2C80E1"/>
<rect x="176.34" y="342.9" width="1.8" height="48.7" fill="#FF7A22"/>
<rect x="178.14" y="342.9" width="0.95" height="52.2" fill="#ABABAB"/>
<rect x="179.09" y="342.9" width="1.75" height="52.7" fill="#FFC108"/>
<rect x="180.84" y="342.9" width="1.45" height="53.9" fill="#1E9AEA"/>
<rect x="184.65" y="342.9" width="1.4" height="57.8" fill="#2C80E1"/>
<rect x="186.05" y="342.9" width="1.8" height="54.7" fill="#FF7A22"/>
<rect x="187.85" y="342.9" width="0.95" height="58.3" fill="#ABABAB"/>
<rect x="188.8" y="342.9" width="1.75" height="58.8" fill="#FFC108"/>
<rect x="190.55" y="342.9" width="1.45" height="60.3" fill="#1E9AEA"/>
<rect x="194.37" y="342.9" width="1.4" height="59.3" fill="#2C80E1"/>
<rect x="195.77" y="342.9" width="1.8" height="56.3" fill="#FF7A22"/>
<rect x="197.57" y="342.9" width="0.95" height="59.8" fill="#ABABAB"/>
<rect x="198.52" y="342.9" width="1.75" height="60.3" fill="#FFC108"/>
<rect x="200.27" y="342.9" width="1.45" height="61.3" fill="#1E9AEA"/>
<rect x="66.6" y="342.9" width="136" height="97.5" fill="none" stroke="#4c4c4c" stroke-width="1"/>
<text transform="translate(73.26 448.4) rotate(-55.5)" font-size="6.1" text-anchor="end" textLength="44.07" lengthAdjust="spacingAndGlyphs">Cubic 2 Segment</text>
<text transform="translate(82.97 448.4) rotate(-55.5)" font-size="6.1" text-anchor="end" textLength="44.07" lengthAdjust="spacingAndGlyphs">Cubic 3 Segment</text>
<text transform="translate(92.69 448.4) rotate(-55.5)" font-size="6.1" text-anchor="end" textLength="44.07" lengthAdjust="spacingAndGlyphs">Cubic 4 Segment</text>
<text transform="translate(102.4 448.4) rotate(-55.5)" font-size="6.1" text-anchor="end" textLength="44.07" lengthAdjust="spacingAndGlyphs">Cubic 5 Segment</text>
<text transform="translate(112.11 448.4) rotate(-55.5)" font-size="6.1" text-anchor="end" textLength="44.07" lengthAdjust="spacingAndGlyphs">Cubic 6 Segment</text>
<text transform="translate(121.83 448.4) rotate(-55.5)" font-size="6.1" text-anchor="end" textLength="44.07" lengthAdjust="spacingAndGlyphs">Cubic 7 Segment</text>
<text transform="translate(131.54 448.4) rotate(-55.5)" font-size="6.1" text-anchor="end" textLength="44.07" lengthAdjust="spacingAndGlyphs">Cubic 8 Segment</text>
<text transform="translate(141.26 448.4) rotate(-55.5)" font-size="6.1" text-anchor="end" textLength="44.07" lengthAdjust="spacingAndGlyphs">Cubic 9 Segment</text>
<text transform="translate(160.69 447.7) rotate(-57.5)" font-size="6.1" text-anchor="end" textLength="39.16" lengthAdjust="spacingAndGlyphs">Linear 10 step</text>
<text transform="translate(170.4 447.7) rotate(-57.5)" font-size="6.1" text-anchor="end" textLength="39.16" lengthAdjust="spacingAndGlyphs">Linear 20 step</text>
<text transform="translate(180.11 447.7) rotate(-57.5)" font-size="6.1" text-anchor="end" textLength="39.16" lengthAdjust="spacingAndGlyphs">Linear 50 step</text>
<text transform="translate(189.83 447.7) rotate(-57.5)" font-size="6.1" text-anchor="end" textLength="39.16" lengthAdjust="spacingAndGlyphs">Linear 90 step</text>
<text transform="translate(199.54 447.7) rotate(-57.5)" font-size="6.1" text-anchor="end" textLength="42.02" lengthAdjust="spacingAndGlyphs">Linear 100 step</text>
<text transform="translate(23.1 391.65) rotate(-90)" font-size="6.25" text-anchor="middle" textLength="67.2" lengthAdjust="spacingAndGlyphs">Polytropic Efficiency</text>
<text transform="translate(33.2 391.65) rotate(-90)" font-size="6.25" text-anchor="middle" textLength="74.3" lengthAdjust="spacingAndGlyphs">Relative Deviaation, %</text>
<rect x="210.8" y="380.9" width="52.2" height="65" fill="#c2c2c2"/>
<rect x="210.1" y="380.2" width="52.2" height="65" rx="0.5" fill="#f4f4f4" stroke="#484848" stroke-width="1"/>
<rect x="213.95" y="384.45" width="3.9" height="3.9" fill="#2C80E1"/>
<text x="220" y="388.8" font-size="6.7" textLength="35.7" lengthAdjust="spacingAndGlyphs">LP CH4/CO2</text>
<rect x="213.95" y="397.45" width="3.9" height="3.9" fill="#FF7A22"/>
<text x="220" y="401.8" font-size="6.7" textLength="37.2" lengthAdjust="spacingAndGlyphs">HP CH4/CO2</text>
<rect x="213.95" y="410.85" width="3.9" height="3.9" fill="#ABABAB"/>
<text x="220" y="415.2" font-size="6.7" textLength="37.9" lengthAdjust="spacingAndGlyphs">LP Heavy NG</text>
<rect x="213.95" y="423.75" width="3.9" height="3.9" fill="#FFC108"/>
<text x="220" y="428.1" font-size="6.7" textLength="39.5" lengthAdjust="spacingAndGlyphs">HP Heavy NG</text>
<rect x="213.95" y="436.65" width="3.9" height="3.9" fill="#1E9AEA"/>
<text x="220" y="441" font-size="6.7" textLength="37.6" lengthAdjust="spacingAndGlyphs">PTC10 HPNG</text>
</g>
<g id="panel-f">
<rect x="282.3" y="333.8" width="259.7" height="156.6" fill="#fff" stroke="#575757" stroke-width="1.15"/>
<rect x="285.2" y="336.6" width="13.6" height="15.8" rx="0.6" fill="#f1f1f1" stroke="#404040" stroke-width="1.1"/>
<text transform="translate(292 347.3) scale(0.85 1)" font-size="8.2" text-anchor="middle" style="stroke-width:0.2px">f</text>
<line x1="341.9" y1="354.65" x2="479.4" y2="354.65" stroke="#d6d6d6" stroke-width="0.8"/>
<line x1="341.9" y1="367.1" x2="479.4" y2="367.1" stroke="#d6d6d6" stroke-width="0.8"/>
<line x1="341.9" y1="379.55" x2="479.4" y2="379.55" stroke="#d6d6d6" stroke-width="0.8"/>
<line x1="341.9" y1="392" x2="479.4" y2="392" stroke="#d6d6d6" stroke-width="0.8"/>
<line x1="341.9" y1="404.45" x2="479.4" y2="404.45" stroke="#d6d6d6" stroke-width="0.8"/>
<line x1="341.9" y1="416.9" x2="479.4" y2="416.9" stroke="#d6d6d6" stroke-width="0.8"/>
<line x1="341.9" y1="429.35" x2="479.4" y2="429.35" stroke="#d6d6d6" stroke-width="0.8"/>
<text x="335.9" y="344.4" font-size="5.8" text-anchor="end" textLength="20.7" lengthAdjust="spacingAndGlyphs">1.0E+00</text>
<text x="335.9" y="356.85" font-size="5.8" text-anchor="end" textLength="19.4" lengthAdjust="spacingAndGlyphs">1.0E-01</text>
<text x="335.9" y="369.3" font-size="5.8" text-anchor="end" textLength="19.4" lengthAdjust="spacingAndGlyphs">1.0E-02</text>
<text x="335.9" y="381.75" font-size="5.8" text-anchor="end" textLength="19.4" lengthAdjust="spacingAndGlyphs">1.0E-03</text>
<text x="335.9" y="394.2" font-size="5.8" text-anchor="end" textLength="19.4" lengthAdjust="spacingAndGlyphs">1.0E-04</text>
<text x="335.9" y="406.65" font-size="5.8" text-anchor="end" textLength="19.4" lengthAdjust="spacingAndGlyphs">1.0E-05</text>
<text x="335.9" y="419.1" font-size="5.8" text-anchor="end" textLength="19.4" lengthAdjust="spacingAndGlyphs">1.0E-06</text>
<text x="335.9" y="431.55" font-size="5.8" text-anchor="end" textLength="19.4" lengthAdjust="spacingAndGlyphs">1.0E-07</text>
<text x="335.9" y="444" font-size="5.8" text-anchor="end" textLength="19.4" lengthAdjust="spacingAndGlyphs">1.0E-08</text>
<rect x="344.55" y="342.2" width="2.5" height="63.2" fill="#FF7A22"/>
<rect x="347.8" y="342.2" width="1.75" height="48" fill="#9E9E9E"/>
<rect x="354.37" y="342.2" width="2.5" height="63.4" fill="#FF7A22"/>
<rect x="357.62" y="342.2" width="1.75" height="57" fill="#9E9E9E"/>
<rect x="364.19" y="342.2" width="2.5" height="63.4" fill="#FF7A22"/>
<rect x="367.44" y="342.2" width="1.75" height="62.5" fill="#9E9E9E"/>
<rect x="374.01" y="342.2" width="2.5" height="63.2" fill="#FF7A22"/>
<rect x="377.26" y="342.2" width="1.75" height="66.1" fill="#9E9E9E"/>
<rect x="383.84" y="342.2" width="2.5" height="62.2" fill="#FF7A22"/>
<rect x="387.09" y="342.2" width="1.75" height="68.8" fill="#9E9E9E"/>
<rect x="393.66" y="342.2" width="2.5" height="70.1" fill="#FF7A22"/>
<rect x="396.91" y="342.2" width="1.75" height="59" fill="#9E9E9E"/>
<rect x="403.48" y="342.2" width="2.5" height="82.2" fill="#FF7A22"/>
<rect x="406.73" y="342.2" width="1.75" height="80.8" fill="#9E9E9E"/>
<rect x="413.3" y="342.2" width="2.5" height="72.1" fill="#FF7A22"/>
<rect x="416.55" y="342.2" width="1.75" height="86.2" fill="#9E9E9E"/>
<rect x="432.94" y="342.2" width="2.5" height="36.9" fill="#FF7A22"/>
<rect x="436.19" y="342.2" width="1.75" height="37.9" fill="#9E9E9E"/>
<rect x="442.76" y="342.2" width="2.5" height="44.5" fill="#FF7A22"/>
<rect x="446.01" y="342.2" width="1.75" height="43.9" fill="#9E9E9E"/>
<rect x="452.59" y="342.2" width="2.5" height="55" fill="#FF7A22"/>
<rect x="455.84" y="342.2" width="1.75" height="54.6" fill="#9E9E9E"/>
<rect x="462.41" y="342.2" width="2.5" height="62.6" fill="#FF7A22"/>
<rect x="465.66" y="342.2" width="1.75" height="61" fill="#9E9E9E"/>
<rect x="472.23" y="342.2" width="2.5" height="64.6" fill="#FF7A22"/>
<rect x="475.48" y="342.2" width="1.75" height="62.6" fill="#9E9E9E"/>
<rect x="341.9" y="342.2" width="137.5" height="99.6" fill="none" stroke="#4c4c4c" stroke-width="1"/>
<text transform="translate(348.11 451) rotate(-51)" font-size="6.1" text-anchor="end" textLength="43" lengthAdjust="spacingAndGlyphs">Cubic 2 Segment</text>
<text transform="translate(357.93 451) rotate(-51)" font-size="6.1" text-anchor="end" textLength="43" lengthAdjust="spacingAndGlyphs">Cubic 3 Segment</text>
<text transform="translate(367.75 451) rotate(-51)" font-size="6.1" text-anchor="end" textLength="43" lengthAdjust="spacingAndGlyphs">Cubic 4 Segment</text>
<text transform="translate(377.57 451) rotate(-51)" font-size="6.1" text-anchor="end" textLength="43" lengthAdjust="spacingAndGlyphs">Cubic 5 Segment</text>
<text transform="translate(387.4 451) rotate(-51)" font-size="6.1" text-anchor="end" textLength="43" lengthAdjust="spacingAndGlyphs">Cubic 6 Segment</text>
<text transform="translate(397.22 451) rotate(-51)" font-size="6.1" text-anchor="end" textLength="43" lengthAdjust="spacingAndGlyphs">Cubic 7 Segment</text>
<text transform="translate(407.04 451) rotate(-51)" font-size="6.1" text-anchor="end" textLength="43" lengthAdjust="spacingAndGlyphs">Cubic 8 Segment</text>
<text transform="translate(416.86 451) rotate(-51)" font-size="6.1" text-anchor="end" textLength="43" lengthAdjust="spacingAndGlyphs">Cubic 9 Segment</text>
<text transform="translate(437 450.3) rotate(-51)" font-size="6.1" text-anchor="end" textLength="38.2" lengthAdjust="spacingAndGlyphs">Linear 10 step</text>
<text transform="translate(446.82 450.3) rotate(-51)" font-size="6.1" text-anchor="end" textLength="38.2" lengthAdjust="spacingAndGlyphs">Linear 20 step</text>
<text transform="translate(456.65 450.3) rotate(-51)" font-size="6.1" text-anchor="end" textLength="38.2" lengthAdjust="spacingAndGlyphs">Linear 50 step</text>
<text transform="translate(466.47 450.3) rotate(-51)" font-size="6.1" text-anchor="end" textLength="38.2" lengthAdjust="spacingAndGlyphs">Linear 90 step</text>
<text transform="translate(476.29 450.3) rotate(-51)" font-size="6.1" text-anchor="end" textLength="41" lengthAdjust="spacingAndGlyphs">Linear 100 step</text>
<text transform="translate(298.6 392) rotate(-90)" font-size="6.25" text-anchor="middle" textLength="67.2" lengthAdjust="spacingAndGlyphs">Polytropic Efficiency</text>
<text transform="translate(308.7 392) rotate(-90)" font-size="6.25" text-anchor="middle" textLength="74.3" lengthAdjust="spacingAndGlyphs">Relative Deviaation, %</text>
<rect x="488" y="399.8" width="50.3" height="26.5" fill="#c2c2c2"/>
<rect x="487.3" y="399.1" width="50.3" height="26.5" rx="0.5" fill="#f4f4f4" stroke="#484848" stroke-width="1"/>
<rect x="491.35" y="403.75" width="3.9" height="3.9" fill="#FF7A22"/>
<text x="497.2" y="408.1" font-size="6.7" textLength="32.7" lengthAdjust="spacingAndGlyphs">PTC10 CO2</text>
<rect x="491.35" y="416.65" width="3.9" height="3.9" fill="#9E9E9E"/>
<text x="497.2" y="421" font-size="6.7" textLength="37.6" lengthAdjust="spacingAndGlyphs">PTC10 HPNG</text>
</g>
</svg></body></html>
